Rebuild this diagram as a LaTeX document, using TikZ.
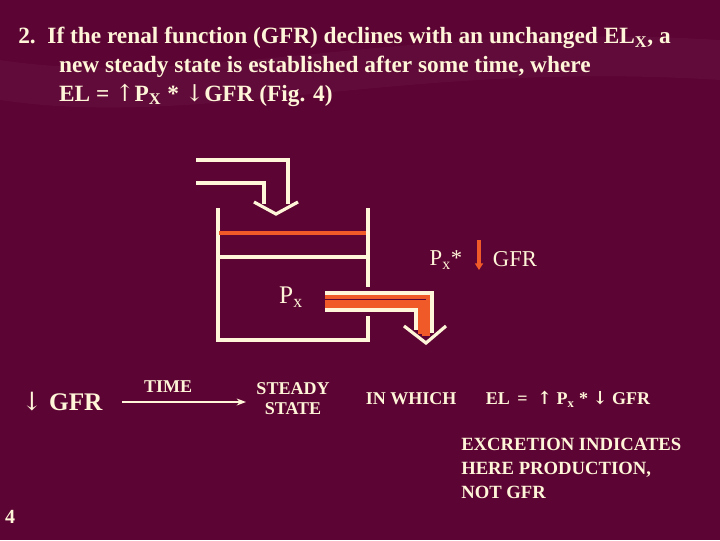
\documentclass[tikz,border=0pt]{standalone}
\usepackage{fontspec}
\usetikzlibrary{arrows.meta}
\setmainfont{Liberation Serif}
\newfontfamily\arr{DejaVu Serif}
\definecolor{bg}{HTML}{5C0433}
\definecolor{cream}{HTML}{FFF5D8}
\definecolor{org}{HTML}{F05A28}
\begin{document}
\begin{tikzpicture}[x=0.75pt,y=-0.75pt,
  txt/.style={text=cream,font=\bfseries\fontsize{17.5}{21.5}\selectfont,inner sep=0pt},
  lbl/.style={text=cream,font=\bfseries\fontsize{13.5}{15}\selectfont,inner sep=0pt},
  pipe/.style={cream,line width=2.4pt},
  opipe/.style={org,line width=2.4pt}]
\fill[bg] (0,0) rectangle (720,540);
\fill[bg!80!white,opacity=0.15] (0,60) .. controls (200,90) and (400,20) .. (720,40) -- (720,80) .. controls (400,60) and (200,130) .. (0,100) -- cycle;
\useasboundingbox (0,0) rectangle (720,540);
% title
\node[txt,anchor=north west,align=left] (title) at (18,27) {2.\ \ If the renal function (GFR) declines with an unchanged EL\textsubscript{X}, a\\
\hspace*{1.75em}new steady state is established after some time, where\\
\hspace*{1.75em}EL = {\arr\mdseries↑}P\textsubscript{X} * {\arr\mdseries↓}GFR (Fig. 4)};
% tank
\draw[pipe] (218,208) -- (218,340) -- (368,340) -- (368,316);
\draw[pipe] (368,208) -- (368,287);
\draw[opipe] (219,233) -- (366,233);
\draw[pipe] (219,257) -- (366,257);
% inlet
\draw[pipe] (196,160) -- (288,160) -- (288,204);
\draw[pipe] (196,183) -- (264,183) -- (264,204);
\draw[pipe] (254,202) -- (276,214) -- (298,202);
% outlet
\draw[pipe] (325,293) -- (432,293) -- (432,333);
\draw[opipe] (325,297) -- (428,297) -- (428,336);
\draw[opipe] (325,302) -- (424,302) -- (424,336);
\draw[opipe] (325,306) -- (420,306) -- (420,334);
\draw[pipe] (325,310) -- (416,310) -- (416,330);
\draw[pipe] (404,326) -- (426,343) -- (446,326);
% labels
\node[lbl,font=\fontsize{19}{22}\selectfont] (px) at (291,297) {P\textsubscript{x}};
\node[lbl,font=\fontsize{17}{20}\selectfont] (pxs) at (446,260) {P\textsubscript{x}*};
\coordinate (a1) at (479,240);
\coordinate (a2) at (479,270);
\draw[org,line width=2.5pt,-{Triangle[length=5pt,width=6pt]}] (a1) -- (a2);
\node[lbl,font=\fontsize{17}{20}\selectfont] (gfr1) at (515,259) {GFR};
% bottom row
\node[lbl,font=\bfseries\fontsize{19}{22}\selectfont] (dg) at (62,402) {{\arr\mdseries↓} GFR};
\coordinate (t1) at (122,402);
\coordinate (t2) at (246,402);
\draw[cream,line width=1pt,-{Stealth[length=7pt]}] (t1) -- (t2);
\node[lbl] (time) at (168,387) {TIME};
\node[lbl,align=center] (ss) at (293,399) {STEADY\\STATE};
\node[lbl] (iw) at (411,399) {IN WHICH};
\node[lbl] (el) at (568,399) {EL \,= \;{\arr ↑} P\textsubscript{x} * {\arr ↓} GFR};
\node[lbl,anchor=north west,align=left,font=\bfseries\fontsize{14}{18}\selectfont] (ex) at (461,438) {EXCRETION INDICATES\\HERE PRODUCTION,\\NOT GFR};
\node[lbl,font=\bfseries\fontsize{15}{18}\selectfont] (num) at (10,517) {4};
\end{tikzpicture}
\end{document}
